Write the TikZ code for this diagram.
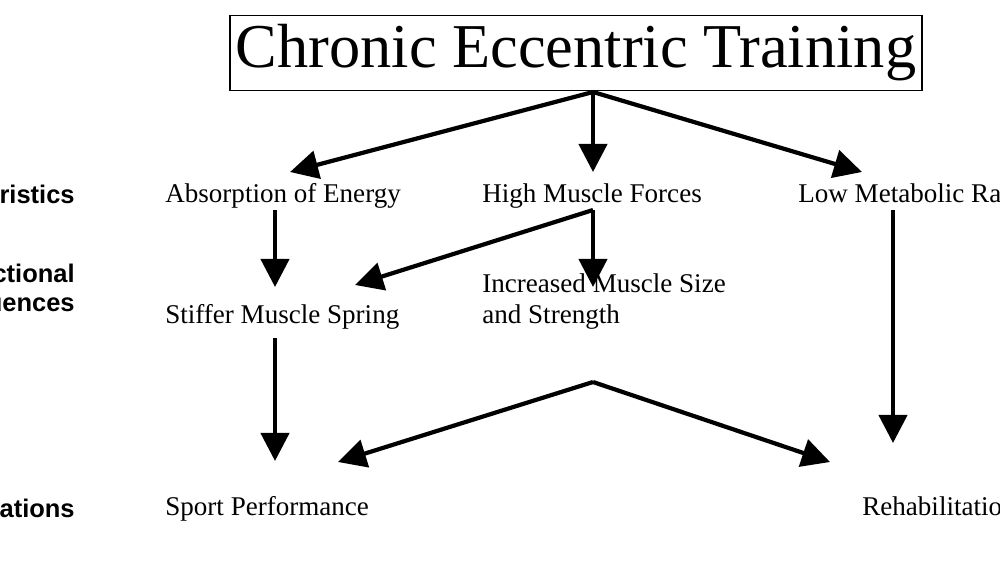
\documentclass[tikz,border=0pt]{standalone}
\usepackage{fontspec}
\setmainfont{Liberation Serif}
\newfontfamily\lblfont{Liberation Sans}
\usetikzlibrary{arrows.meta}
\begin{document}
\begin{tikzpicture}[x=0.02cm,y=-0.02cm,
  body/.style={font=\fontsize{15.4}{17.5}\selectfont,anchor=base west,inner sep=0pt,align=left},
  side/.style={font=\lblfont\bfseries\fontsize{14.5}{16}\selectfont,anchor=base east,inner sep=0pt,align=right},
  arr/.style={line width=2.4pt,-{Triangle[length=16pt,width=16pt]}}]
\clip (0,0) rectangle (1000,562);
\fill[white] (0,0) rectangle (1000,562);
\node[draw,line width=0.8pt,minimum width=692*0.02cm,minimum height=75*0.02cm,inner sep=0pt,font=\fontsize{35.5}{40}\selectfont] (title) at (576,53) {Chronic Eccentric Training};
\node[side] (l1) at (75,203) {Characteristics};
\node[side] (l2) at (75,311) {Functional\\Consequences};
\node[side] (l3) at (75,517) {Applications};
\node[body] (abs) at (165,202) {Absorption of Energy};
\node[body] (high) at (482,202) {High Muscle Forces};
\node[body] (low) at (798,202) {Low Metabolic Rate};
\node[body] (stiff) at (165,323) {Stiffer Muscle Spring};
\node[body] (inc) at (482,323) {Increased Muscle Size\\and Strength};
\node[body] (sport) at (165,515) {Sport Performance};
\node[body] (rehab) at (862,515) {Rehabilitation};
\coordinate (t) at (593,92);
\coordinate (a1) at (290,172);\coordinate (a2) at (593,172);\coordinate (a3) at (862,172);
\draw[arr] (t)--(a1); \draw[arr] (t)--(a2); \draw[arr] (t)--(a3);
\coordinate (as) at (275,210);\coordinate (ae) at (275,287);
\draw[arr] (as)--(ae);
\coordinate (hs) at (593,210);\coordinate (he) at (593,287);\coordinate (hs2) at (355,285);
\draw[arr] (hs)--(he); \draw[arr] (hs)--(hs2);
\coordinate (ss) at (275,338);\coordinate (se) at (275,461);
\draw[arr] (ss)--(se);
\coordinate (is) at (593,382);\coordinate (ie1) at (338,462);\coordinate (ie2) at (830,462);
\draw[arr] (is)--(ie1); \draw[arr] (is)--(ie2);
\coordinate (ls) at (893,210);\coordinate (le) at (893,443);
\draw[arr] (ls)--(le);
\end{tikzpicture}
\end{document}
